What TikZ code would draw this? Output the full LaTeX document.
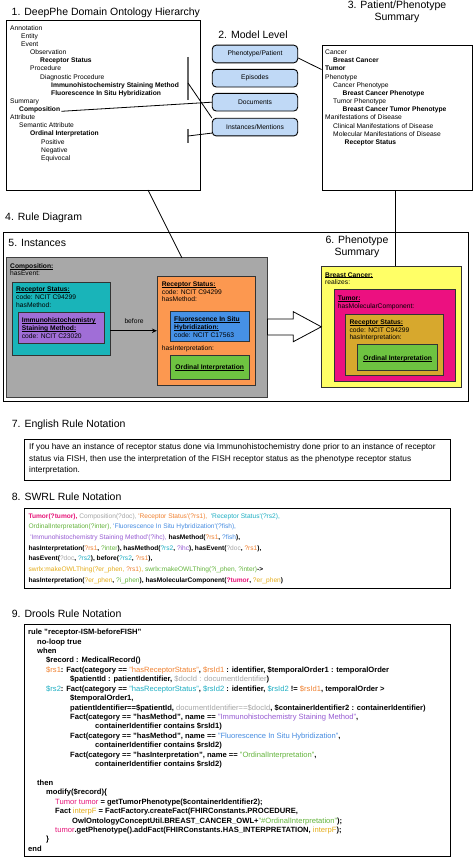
\documentclass[tikz,border=0pt]{standalone}
\usepackage{fontspec}
\setmainfont{Liberation Sans}
\usetikzlibrary{fit,arrows.meta,calc}
\definecolor{corange}{RGB}{240,130,50}
\definecolor{cteal}{RGB}{30,175,195}
\definecolor{cgreen}{RGB}{100,180,60}
\definecolor{cblue}{RGB}{70,140,225}
\definecolor{cpurple}{RGB}{150,90,210}
\definecolor{cgray}{RGB}{165,165,165}
\definecolor{cpink}{RGB}{230,20,120}
\definecolor{cgold}{RGB}{228,172,25}
\definecolor{fgray}{RGB}{168,168,168}
\definecolor{fteal}{RGB}{25,180,185}
\definecolor{fpurple}{RGB}{160,110,215}
\definecolor{forange}{RGB}{252,152,80}
\definecolor{fblue}{RGB}{70,145,230}
\definecolor{fgreen}{RGB}{110,195,65}
\definecolor{fyellow}{RGB}{255,255,102}
\definecolor{fmagenta}{RGB}{236,16,128}
\definecolor{fgold}{RGB}{215,168,45}
\definecolor{fmodel}{RGB}{192,217,246}
\newcommand\kOr[1]{\textcolor{corange}{\mdseries #1}}
\newcommand\kTe[1]{\textcolor{cteal}{\mdseries #1}}
\newcommand\kGn[1]{\textcolor{cgreen}{\mdseries #1}}
\newcommand\kBl[1]{\textcolor{cblue}{\mdseries #1}}
\newcommand\kPu[1]{\textcolor{cpurple}{\mdseries #1}}
\newcommand\kGy[1]{\textcolor{cgray}{\mdseries #1}}
\newcommand\kPk[1]{\textcolor{cpink}{#1}}
\newcommand\kGo[1]{\textcolor{cgold}{\mdseries #1}}
\newcommand\qs{\textquotesingle}
\newcommand\hdr[1]{{\bfseries\setbox0\hbox{#1}\rlap{\rule[-0.9pt]{\wd0}{0.45pt}}\box0}}
\begin{document}
\begin{tikzpicture}[x=1pt,y=-1pt,
  t/.style={anchor=base west, inner sep=0pt, font=\fontsize{6.7}{8}\selectfont},
  tc/.style={anchor=base, inner sep=0pt, font=\fontsize{6.7}{8}\selectfont},
  ttl/.style={anchor=base west, inner sep=0pt, font=\fontsize{10.5}{12}\selectfont},
  ttc/.style={anchor=base, inner sep=0pt, font=\fontsize{10.5}{12}\selectfont},
  eng/.style={anchor=base west, inner sep=0pt, font=\fontsize{8.3}{10}\selectfont},
  swrl/.style={anchor=base west, inner sep=0pt, font=\fontsize{6.6}{8}\selectfont\bfseries},
  drl/.style={anchor=base west, inner sep=0pt, font=\fontsize{7.6}{9}\selectfont\bfseries},
  frame/.style={draw=black, line width=0.9pt, inner sep=0pt},
  ibox/.style={draw=black!80, line width=0.8pt, inner sep=0pt},
  mbox/.style={draw=black, line width=0.9pt, rounded corners=4pt, fill=fmodel, inner sep=0pt,
    minimum width=85.5pt, minimum height=17.7pt, font=\fontsize{6.7}{8}\selectfont},
  conn/.style={line width=0.8pt, black},
  bar/.style={line width=1.4pt, black!60}]
\fill[white] (0,0) rectangle (474,858);
\useasboundingbox (0,0) rectangle (474,858);

% ---------- 1. ontology ----------
\node[ttl] (t1) at (11.5,15.4) {1. DeepPhe Domain Ontology Hierarchy};
\node[frame, fit={(6,20) (200,190)}] (onto) {};
\node[t] (o1) at (10,30.4) {Annotation};
\node[t] (o2) at (21,38.5) {Entity};
\node[t] (o3) at (21,46.6) {Event};
\node[t] (o4) at (30,54.8) {Observation};
\node[t] (o5) at (40,62.9) {\bfseries Receptor Status};
\node[t] (o6) at (30,71.0) {Procedure};
\node[t] (o7) at (40,79.1) {Diagnostic Procedure};
\node[t] (o8) at (51,87.2) {\bfseries Immunohistochemistry Staining Method};
\node[t] (o9) at (51,95.4) {\bfseries Fluorescence In Situ Hybridization};
\node[t] (o10) at (10,103.5) {Summary};
\node[t] (o11) at (19,111.6) {\bfseries Composition};
\node[t] (o12) at (10,119.7) {Attribute};
\node[t] (o13) at (19,127.8) {Semantic Attribute};
\node[t] (o14) at (30,136.0) {\bfseries Ordinal Interpretation};
\node[t] (o15) at (41,144.1) {Positive};
\node[t] (o16) at (41,152.2) {Negative};
\node[t] (o17) at (41,160.3) {Equivocal};
\coordinate (b1t) at (188,57);
\coordinate (b1b) at (188,100);
\coordinate (b1c) at (188,83);
\coordinate (b2t) at (188,129);
\coordinate (b2b) at (188,143);
\coordinate (b2c) at (188,136);
\draw[bar] (b1t) -- (b1b);
\draw[bar] (b2t) -- (b2b);

% ---------- 2. model level ----------
\node[ttc] (t2) at (253,38.7) {2. Model Level};
\node[mbox] (mpp) at (255,54) {Phenotype/Patient};
\node[mbox] (mep) at (255,78.2) {Episodes};
\node[mbox] (mdoc) at (255,102.2) {Documents};
\node[mbox] (minst) at (255,127.1) {Instances/Mentions};

% ---------- 3. patient/phenotype summary ----------
\node[ttc] (t3a) at (397,8.9) {3. Patient/Phenotype};
\node[ttc] (t3b) at (397,20.9) {Summary};
\node[frame, fit={(322,45) (472,190)}] (pps) {};
\node[t] (p1) at (325,54.7) {Cancer};
\node[t] (p2) at (333,62.85) {\bfseries Breast Cancer};
\node[t] (p3) at (325,71.0) {\bfseries Tumor};
\node[t] (p4) at (325,79.15) {Phenotype};
\node[t] (p5) at (333,87.3) {Cancer Phenotype};
\node[t] (p6) at (342.5,95.45) {\bfseries Breast Cancer Phenotype};
\node[t] (p7) at (333,103.6) {Tumor Phenotype};
\node[t] (p8) at (342.5,111.75) {\bfseries Breast Cancer Tumor Phenotype};
\node[t] (p9) at (325,119.9) {Manifestations of Disease};
\node[t] (p10) at (333,128.05) {Clinical Manifestations of Disease};
\node[t] (p11) at (333,136.2) {Molecular Manifestations of Disease};
\node[t] (p12) at (344.5,144.35) {\bfseries Receptor Status};

% connectors top
\draw[conn] ([yshift=-4pt]mpp.east) -- ([yshift=-25pt]pps.north west);
\draw[conn] ([xshift=1pt,yshift=0.3pt]o11.base east) -- (mdoc.west);
\draw[conn] (b1c) -- (minst.north west);
\draw[conn] (b2c) -- ([yshift=-6pt]minst.west);

% ---------- 4. rule diagram ----------
\node[ttl] (t4) at (5,221) {4. Rule Diagram};
\node[draw=black, line width=0.8pt, inner sep=0pt, fit={(3,232) (468,401)}] (rule) {};
\node[ttl] (t5) at (8.3,246.4) {5. Instances};
\node[draw=black!75, line width=1pt, fill=fgray, inner sep=0pt, fit={(6,258) (267,397)}] (inst) {};
\node[t] (ic1) at (10,268.1) {\hdr{Composition:}};
\node[t] (ic2) at (10,275.7) {hasEvent:};
% teal
\node[ibox, fill=fteal, fit={(12,282) (110,355)}] (teal) {};
\node[t] (tl1) at (16,291.4) {\hdr{Receptor Status:}};
\node[t] (tl2) at (16,299.4) {code: NCIT C94299};
\node[t] (tl3) at (16,307.2) {hasMethod:};
\node[ibox, fill=fpurple, fit={(18,312.3) (104,343)}] (purp) {};
\node[t] (pu1) at (21.7,322.9) {\hdr{Immunohistochemistry}};
\node[t] (pu2) at (21.7,330.7) {\hdr{Staining Method:}};
\node[t] (pu3) at (21.7,338.4) {code: NCIT C23020};
% orange
\node[ibox, fill=forange, fit={(157.3,276) (255.7,385.5)}] (orng) {};
\node[t] (or1) at (161.7,286.7) {\hdr{Receptor Status:}};
\node[t] (or2) at (161.7,294.4) {code: NCIT C94299};
\node[t] (or3) at (161.7,301.9) {hasMethod:};
\node[ibox, fill=fblue, fit={(170,311) (249.3,341.7)}] (blu) {};
\node[t] (bl1) at (174,321.4) {\hdr{Fluorescence In Situ}};
\node[t] (bl2) at (174,329.2) {\hdr{Hybridization:}};
\node[t] (bl3) at (174,337.2) {code: NCIT C17563};
\node[t] (or4) at (161.7,350.9) {hasInterpretation:};
\node[ibox, fill=fgreen, fit={(170,355) (249.3,379.3)}] (grn) {};
\node[tc] (gr1) at (209.7,369.7) {\hdr{Ordinal Interpretation}};
% before arrow
\draw[conn, -{Stealth[length=5pt,width=4.5pt]}] (teal.east |- orng.west) -- (orng.west);
\node[tc] (bef) at (134,323.4) {before};

% ---------- 6. phenotype summary ----------
\node[ttc] (t6a) at (357,243.2) {6. Phenotype};
\node[ttc] (t6b) at (357,255.2) {Summary};
\node[ibox, fill=fyellow, fit={(321.7,266) (461.7,387.3)}] (yel) {};
\node[t] (y1) at (325,277) {\hdr{Breast Cancer:}};
\node[t] (y2) at (325,284.3) {realizes:};
\node[ibox, fill=fmagenta, fit={(334.3,289.3) (455.7,381.7)}] (mag) {};
\node[t] (m1) at (337.7,300.1) {\hdr{Tumor:}};
\node[t] (m2) at (337.7,308.4) {hasMolecularComponent:};
\node[ibox, fill=fgold, fit={(345.7,314.3) (443.3,375)}] (gld) {};
\node[t] (g1) at (349.3,324.7) {\hdr{Receptor Status:}};
\node[t] (g2) at (349.3,332.4) {code: NCIT C94299};
\node[t] (g3) at (349.3,339.7) {hasInterpretation:};
\node[ibox, fill=fgreen, fit={(357.7,344.3) (437.7,370.7)}] (grn2) {};
\node[tc] (g4) at (397.7,360.1) {\hdr{Ordinal Interpretation}};

% big hollow arrow
\draw[line width=0.8pt, fill=white] (inst.east |- 0,319) -- (293.3,319) -- (293.3,311.7)
  -- (yel.west |- 0,326.8) -- (293.3,341.7) -- (293.3,335) -- (inst.east |- 0,335) -- cycle;

% long connectors
\coordinate (c1) at (148,190);
\coordinate (c2) at (182,258);
\draw[conn] (c1) -- (c2);
\draw[conn] ([xshift=-2pt]pps.south) -- ([xshift=-2pt]pps.south |- yel.north);

% ---------- 7. English ----------
\node[ttl] (t7) at (11.7,427.7) {7. English Rule Notation};
\node[frame, fit={(24,439.3) (450,480)}] (engb) {};
\node[eng] (e1) at (29,449.6) {If you have an instance of receptor status done via Immunohistochemistry done prior to an instance of receptor};
\node[eng] (e2) at (29,461.2) {status via FISH, then use the interpretation of the FISH receptor status as the phenotype receptor status};
\node[eng] (e3) at (29,472.9) {interpretation.};

% ---------- 8. SWRL ----------
\node[ttl] (t8) at (11.7,500.4) {8. SWRL Rule Notation};
\node[frame, fit={(24,508.3) (450,588.3)}] (swb) {};
\node[swrl] (s1) at (28.3,518.3) {\kPk{Tumor(?tumor),} \kGy{Composition(?doc),} \kOr{\qs Receptor Status\qs(?rs1),}\ \ \kTe{\qs Receptor Status\qs(?rs2),}};
\node[swrl] (s2) at (28.3,528.95) {\kGn{OrdinalInterpretation(?inter),} \kBl{\qs Fluorescence In Situ Hybridization\qs(?fish),}};
\node[swrl] (s3) at (28.3,539.6) {\ \kPu{\qs Immunohistochemistry Staining Method\qs(?ihc),} hasMethod(\kOr{?rs1}, \kBl{?fish}),};
\node[swrl] (s4) at (28.3,550.25) {hasInterpretation(\kOr{?rs1}, \kGn{?inter}), hasMethod(\kTe{?rs2}, \kPu{?ihc}), hasEvent(\kGy{?doc}, \kOr{?rs1}),};
\node[swrl] (s5) at (28.3,560.9) {hasEvent(\kGy{?doc}, \kTe{?rs2}), before(\kTe{?rs2}, \kOr{?rs1}),};
\node[swrl] (s6) at (28.3,571.55) {\kGo{swrlx:makeOWLThing(?er\_phen,} \kOr{?rs1}\kGo{),} \kGn{swrlx:makeOWLThing(?i\_phen, ?inter)}->};
\node[swrl] (s7) at (28.3,582.2) {hasInterpretation(\kGo{?er\_phen}, \kGn{?i\_phen}), hasMolecularComponent(\kPk{?tumor}, \kGo{?er\_phen})};

% ---------- 9. Drools ----------
\node[ttl] (t9) at (11.7,617) {9. Drools Rule Notation};
\node[frame, fit={(24,624) (450,856.5)}] (drb) {};
\node[drl] (d1) at (28,634.7) {rule "receptor-ISM-beforeFISH"};
\node[drl] (d2) at (37,644.12) {no-loop true};
\node[drl] (d3) at (37,653.54) {when};
\node[drl] (d4) at (46,662.96) {\$record : MedicalRecord()};
\node[drl] (d5) at (46,672.38) {\kOr{\$rs1}: Fact(category == \kOr{"hasReceptorStatus"}, \kOr{\$rsId1} : identifier, \$temporalOrder1 : temporalOrder};
\node[drl] (d6) at (70,681.8) {\$patientId : patientIdentifier, \kGy{\$docId : documentIdentifier})};
\node[drl] (d7) at (46,691.22) {\kTe{\$rs2}: Fact(category == \kTe{"hasReceptorStatus"}, \kTe{\$rsId2} : identifier, \kTe{\$rsId2} != \kOr{\$rsId1}, temporalOrder >};
\node[drl] (d8) at (70,700.64) {\$temporalOrder1,};
\node[drl] (d9) at (70,710.06) {patientIdentifier==\$patientId, \kGy{documentIdentifier==\$docId}, \$containerIdentifier2 : containerIdentifier)};
\node[drl] (d10) at (70,719.48) {Fact(category == "hasMethod", name == \kPu{"Immunohistochemistry Staining Method"},};
\node[drl] (d11) at (95,728.9) {containerIdentifier contains \$rsId1)};
\node[drl] (d12) at (70,738.32) {Fact(category == "hasMethod", name == \kBl{"Fluorescence In Situ Hybridization"},};
\node[drl] (d13) at (95,747.74) {containerIdentifier contains \$rsId2)};
\node[drl] (d14) at (70,757.16) {Fact(category == "hasInterpretation", name == \kGn{"OrdinalInterpretation"},};
\node[drl] (d15) at (95,766.58) {containerIdentifier contains \$rsId2)};
\node[drl] (d17) at (37,785.42) {then};
\node[drl] (d18) at (46,794.84) {modify(\$record)\{};
\node[drl] (d19) at (55,804.26) {\kPk{\mdseries Tumor tumor} = getTumorPhenotype(\$containerIdentifier2);};
\node[drl] (d20) at (55,813.68) {Fact \kGo{interpF} = FactFactory.createFact(FHIRConstants.PROCEDURE,};
\node[drl] (d21) at (72,823.1) {OwlOntologyConceptUtil.BREAST\_CANCER\_OWL+\kGn{"\#OrdinalInterpretation"});};
\node[drl] (d22) at (55,832.52) {\kPk{\mdseries tumor}.getPhenotype().addFact(FHIRConstants.HAS\_INTERPRETATION, \kGo{interpF});};
\node[drl] (d23) at (46,841.94) {\}};
\node[drl] (d24) at (28,851.36) {end};
\end{tikzpicture}
\end{document}
